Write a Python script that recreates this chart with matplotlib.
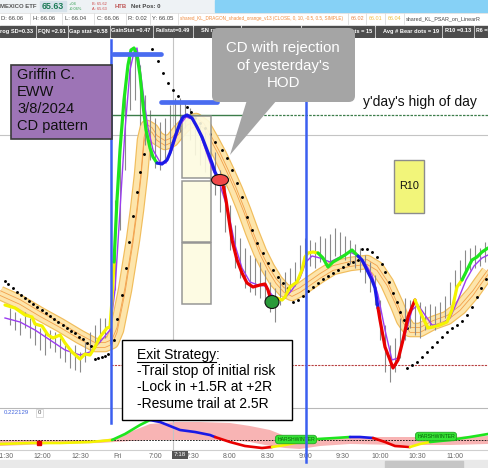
import matplotlib
matplotlib.use("Agg")
import matplotlib.pyplot as plt
from matplotlib.patches import Rectangle, Ellipse, FancyBboxPatch, Polygon

plt.rcParams["font.family"] = ["Liberation Sans", "DejaVu Sans"]

# === Data (x = session minutes, 12:00 prior day = 0, Fri open = 60) ===
# fast colored MA
FAST_T = [-30, -22, -14, -8.4, -6, -0.4, 4.4, 8.4, 14, 18, 23.6, 30, 34, 38, 42, 46, 51.6, 54, 55.6, 57.2,
          59.6, 62, 65.2, 68.4, 70.8, 73.2, 75.6, 78, 80.4, 82.8, 86, 88.4, 91.6,
          95.6, 99.6, 102, 106, 110, 112.4, 115.6, 119.6, 123.6, 127.6, 131.6, 135.6, 138, 141.2,
          144.4, 146.8, 149.2, 151.6, 155.6, 159.6, 163.6, 168.4, 174, 178, 180.4, 182, 184.4,
          187.6, 191.6, 194, 198, 203.6, 207.6, 210, 212.4, 216.4, 220.4,
          224.4, 228.4, 232.4, 238, 242, 247.6, 250, 252.4,
          255.6, 259.6, 263.6, 266, 268.4,
          270, 274, 278, 280.4, 284.4, 288.4, 292.4, 298,
          300.4, 304.4, 308.4, 312.4, 318, 323.6, 327.6, 331.6, 335.6,
          339.6, 343.6, 347.6, 351.6, 356.4]
FAST_P = [65.475, 65.46, 65.425, 65.415, 65.38, 65.37, 65.325, 65.31, 65.325, 65.285, 65.24, 65.205, 65.23,
          65.225, 65.265, 65.315, 65.36, 65.365, 65.5, 65.69,
          66.0, 66.25, 66.5, 66.675, 66.75, 66.76, 66.725, 66.625, 66.475, 66.35, 66.26, 66.215, 66.185,
          66.18, 66.2, 66.235, 66.315, 66.385, 66.415, 66.425, 66.41, 66.365, 66.315, 66.25, 66.185, 66.14, 66.1,
          66.075, 66.0, 65.9, 65.8, 65.7, 65.635, 65.585, 65.565, 65.575, 65.58, 65.55, 65.515, 65.49,
          65.51, 65.5, 65.515, 65.565, 65.59, 65.65, 65.715, 65.735, 65.74, 65.735,
          65.71, 65.665, 65.69, 65.71, 65.725, 65.75, 65.735, 65.72,
          65.7, 65.65, 65.6, 65.56, 65.46,
          65.4, 65.265, 65.2, 65.16, 65.2, 65.3, 65.415, 65.5,
          65.465, 65.41, 65.36, 65.365, 65.375, 65.39, 65.45, 65.565, 65.6,
          65.65, 65.7, 65.715, 65.74, 65.76]
FAST_SEG_START = [0, 19, 32, 46, 59, 69, 77, 82, 90, 99]
FAST_SEG_COLOR = ["yellow", "green", "blue", "red", "yellow", "green", "blue", "red", "yellow", "green"]

# purple (slower) line
PURPLE_T = [-30, -18, -6, 6, 18, 30, 38, 46, 54, 58, 62, 66, 70, 73.2, 75.6, 78, 81.2, 84.4, 88.4, 94,
            98.8, 103.6, 110, 114.8, 119.6, 124.4, 130, 135.6, 142, 148.4, 154, 159.6, 166, 172.4, 178,
            183.6, 188.4, 194, 199.6, 206, 210.8, 215.6, 222, 230, 238, 246, 252.4, 258, 263.6, 268.4,
            274, 279.6, 284.4, 290, 295.6, 300.4, 306, 311.6, 318, 326, 332.4, 338.8, 345.2, 351.6, 356.4]
PURPLE_P = [65.41, 65.39, 65.35, 65.3, 65.25, 65.225, 65.24, 65.29, 65.35, 65.55, 65.95, 66.35, 66.65, 66.74,
            66.76, 66.66, 66.5, 66.36, 66.25, 66.19, 66.185, 66.25, 66.375, 66.415, 66.405, 66.36, 66.26,
            66.16, 66.075, 65.95, 65.775, 65.66, 65.59, 65.575, 65.57, 65.525, 65.5, 65.51, 65.55, 65.61,
            65.69, 65.72, 65.71, 65.69, 65.715, 65.74, 65.72, 65.685, 65.625, 65.525, 65.35, 65.2, 65.21,
            65.325, 65.45, 65.475, 65.425, 65.375, 65.375, 65.41, 65.5, 65.6, 65.67, 65.71, 65.725]

# shaded dragon band (center)
BAND_T = [-34, -18, -2, 14, 30, 42, 50, 55.6, 59.6, 62.8, 66, 69.2, 72.4, 75.6, 78.8, 81.2, 83.6, 87.6,
          91.6, 98, 103.6, 110, 116.4, 122.8, 129.2, 135.6, 142, 148.4, 154.8, 161.2, 167.6, 174, 180.4,
          186.8, 193.2, 199.6, 206, 214, 222, 232.4, 246, 259.6, 267.6, 275.6, 283.6, 288.4, 294, 302,
          312.4, 323.6, 334, 344.4, 350, 356.4]
BAND_P = [65.535, 65.49, 65.43, 65.375, 65.315, 65.275, 65.275, 65.29, 65.35, 65.45, 65.55, 65.675, 65.8,
          65.95, 66.125, 66.3, 66.365, 66.35, 66.31, 66.285, 66.3, 66.35, 66.39, 66.4, 66.37, 66.3, 66.225,
          66.14, 66.05, 65.95, 65.84, 65.74, 65.66, 65.595, 65.55, 65.53, 65.55, 65.585, 65.62, 65.66,
          65.68, 65.69, 65.66, 65.585, 65.475, 65.4, 65.35, 65.35, 65.385, 65.41, 65.46, 65.535, 65.585, 65.64]

# PSAR dots
PSAR_T = [-30, -27.6, -23.6, -20.4, -17.2, -14, -10.8, -7.6, -4.4, -0.4, 2.8, 6, 9.2, 12.4, 16.4, 19.6,
          22.8, 26, 29.2, 32.4, 35.6, 38.8,
          42, 44.4, 47.6, 50, 52.4, 57.2, 59.6, 63.6, 66.8, 69.2, 72.4, 75.6, 78, 81.2,
          87.6, 92.4, 96.4, 100.4, 104.4, 108.4, 111.6, 115.6, 118.8, 122, 126, 130, 134, 138, 143.6,
          147.6, 151.6, 155.6, 159.6, 163.6, 167.6, 171.6, 176.4, 180.4, 184.4, 188.4, 192.4, 196.4,
          200.4, 204.4, 208.4, 212.4, 216.4, 220.4, 224.4, 228.4, 232.4, 236.4, 240.4, 244.4, 248.4, 252.4,
          255.6, 259.6, 263.6, 267.6, 271.6, 274, 277.2, 280.4, 283.6, 286, 289.2, 291.6,
          291.6, 295.6, 299.6, 303.6, 307.6, 311.6, 315.6, 319.6, 323.6, 327.6, 331.6, 335.6, 339.6,
          343.6, 347.6, 350.8, 354.8]
PSAR_P = [65.595, 65.58, 65.56, 65.54, 65.525, 65.51, 65.495, 65.48, 65.465, 65.45, 65.435, 65.42, 65.405,
          65.39, 65.375, 65.36, 65.345, 65.335, 65.315, 65.305, 65.285, 65.27,
          65.205, 65.21, 65.215, 65.22, 65.23, 65.3, 65.405, 65.525, 65.66, 65.79, 65.92, 66.04, 66.14, 66.23,
          66.755, 66.695, 66.635, 66.585, 66.55, 66.52, 66.49, 66.465, 66.44, 66.41, 66.385, 66.36, 66.33,
          66.29, 66.25, 66.21, 66.15, 66.085, 66.015, 65.915, 65.85, 65.785, 65.735, 65.685, 65.65, 65.615,
          65.585, 65.56,
          65.49, 65.5, 65.52, 65.545, 65.565, 65.585, 65.605, 65.62, 65.635, 65.65, 65.665, 65.68, 65.69, 65.7,
          65.755, 65.755, 65.74, 65.715, 65.68, 65.64, 65.59, 65.535, 65.49, 65.44, 65.4, 65.36,
          65.16, 65.175, 65.19, 65.215, 65.24, 65.265, 65.29, 65.315, 65.34, 65.36, 65.375, 65.395, 65.425,
          65.465, 65.515, 65.56, 65.605]

# OHLC bars (4-minute spacing)
BAR_T = list(range(-26, 355, 4))
BAR_HI = [65.46, 65.44, 65.41, 65.44, 65.41, 65.39, 65.36, 65.34, 65.35, 65.34,
          65.31, 65.275, 65.26, 65.275, 65.24, 65.29, 65.34, 65.375, 65.41, 65.41,
          65.36, 66.0, 66.3, 66.575, 66.725, 66.75, 66.675, 66.525, 66.45, 66.41,
          66.39, 66.41, 66.475, 66.51, 66.51, 66.49, 66.46, 66.425, 66.375, 66.34,
          66.29, 66.24, 66.15, 66.075, 65.975, 65.875, 65.81, 65.76, 65.725, 65.71,
          65.69, 65.65, 65.59, 65.56, 65.61, 65.64, 65.66, 65.69, 65.775, 65.81,
          65.8, 65.79, 65.82, 65.81, 65.83, 65.86, 65.84, 65.82, 65.8, 65.78,
          65.76, 65.725, 65.69, 65.625, 65.5, 65.375, 65.275, 65.31, 65.41, 65.51,
          65.5, 65.475, 65.49, 65.47, 65.48, 65.47, 65.49, 65.52, 65.59, 65.65,
          65.7, 65.75, 65.76, 65.775, 65.76, 65.79]
BAR_LO = [65.375, 65.35, 65.325, 65.36, 65.31, 65.275, 65.25, 65.225, 65.26, 65.24,
          65.21, 65.19, 65.16, 65.15, 65.14, 65.19, 65.225, 65.26, 65.29, 65.31,
          65.28, 65.55, 65.85, 66.15, 66.45, 66.5, 66.375, 66.275, 66.2, 66.16,
          66.15, 66.2, 66.25, 66.325, 66.34, 66.36, 66.3, 66.225, 66.175, 66.14,
          66.075, 66.025, 65.94, 65.84, 65.75, 65.66, 65.61, 65.56, 65.54, 65.525,
          65.51, 65.485, 65.44, 65.39, 65.475, 65.51, 65.54, 65.57, 65.64, 65.69,
          65.67, 65.66, 65.69, 65.675, 65.69, 65.72, 65.72, 65.7, 65.68, 65.66,
          65.64, 65.585, 65.54, 65.475, 65.3, 65.14, 65.09, 65.14, 65.21, 65.3,
          65.36, 65.325, 65.31, 65.35, 65.37, 65.35, 65.39, 65.41, 65.475, 65.525,
          65.575, 65.625, 65.65, 65.66, 65.67, 65.69]

# levels and annotations
YDAY_HIGH = 66.425
STOP_LEVEL = 65.175
CROSS_T, CROSS_P = 104.4, 66.325
TRADE_MARKS_T = [54.8, 210.8]                 # blue verticals
HOD_BARS = [(56.4, 94.8, 66.73), (94.8, 139.6, 66.49)]
RISK_BOXES = [(66.11, 66.42), (65.79, 66.095), (65.48, 65.785)]
ENTRY = (142, 66.1)
EXIT = (183.6, 65.49)

# indicator pane
IND_T = [-34, -10, 14, 38, 55.6, 66, 78, 86, 94, 102, 110, 122, 134, 138, 150, 162, 175.6, 183.6, 194,
         206, 220.4, 234, 246, 254, 264.4, 274, 282, 294, 302, 310, 326, 342, 356.4]
IND_V = [-0.4, -0.3, -0.3, -0.2, 0.0, 0.6, 1.5, 2.0, 1.8, 1.4, 1.0, 0.8, 0.5, 0.3, -0.2, -0.6, -0.8, -0.7,
         -0.5, -0.2, 0.1, 0.2, 0.3, 0.3, 0.2, -0.2, -0.6, -0.7, -0.4, -0.2, 0.0, 0.3, 0.6]
IND_SEG_START = [0, 4, 7, 13, 17, 20, 22, 24, 27, 29]
IND_SEG_COLOR = ["yellow", "green", "blue", "red", "yellow", "green", "blue", "red", "yellow", "green"]
PINK_T = [-34, 6, 46, 58, 70, 86, 106, 126, 150, 166, 182, 194, 206, 222, 246, 286, 326, 356.4]
PINK_HI = [0, 0, 0, 0.2, 0.8, 1.6, 1.8, 1.8, 1.7, 1.4, 1.0, 0.4, 0.1, 0.2, 0.3, 0.3, 0.3, 0.4]
PINK_LO = [-0.6, -0.4, -0.3, -0.2, -0.1, 0, 0, 0, 0, -0.2, -0.6, -0.8, -0.9, -0.6, -0.4, -0.5, -0.5, -0.4]
HARSH_T = [202.8, 314.8]
HARSH_V = [0.05, 0.35]

TIME_T = [-30, 0, 30, 60, 90, 120, 150, 180, 210, 240, 270, 300, 330]
TIME_LABELS = ["11:30", "12:00", "12:30", "Fri", "7:00", "7:30", "8:00", "8:30", "9:00", "9:30",
               "10:00", "10:30", "11:00"]

SEG_COLORS = {"yellow": "#f4f400", "green": "#1ee61e", "blue": "#1a1ae6", "red": "#e80000"}

W, H = 488, 468


def draw_segments(ax, t, v, starts, colors, lw, z):
    ends = starts[1:] + [len(t) - 1]
    for s, e, c in zip(starts, ends, colors):
        ax.plot(t[s:e + 1], v[s:e + 1], color=SEG_COLORS[c], lw=lw,
                solid_capstyle="round", solid_joinstyle="round", zorder=z)


fig = plt.figure(figsize=(W / 100, H / 100), dpi=100)
fig.patch.set_facecolor("white")

# === Header strip (pixel layout) ===
hx = fig.add_axes([0, 1 - 38 / H, 1, 38 / H], zorder=0)
hx.set_xlim(0, W)
hx.set_ylim(38, 0)
hx.axis("off")
hx.add_patch(Rectangle((0, 0), 215, 12, color="#eef2f5"))
hx.add_patch(Rectangle((215, 0), W - 215, 12, color="#86d1f6"))
hx.add_patch(Rectangle((40, 1), 26, 10, color="#d6e2ea"))
hx.text(36, 6.3, "MEXICO ETF", ha="right", va="center", fontsize=4.3, color="#555555", fontweight="bold")
hx.text(53, 6.3, "65.63", ha="center", va="center", fontsize=6.3, color="#1b7a55", fontweight="bold")
hx.text(69, 4, "+.04", va="center", fontsize=2.8, color="#2a9a4a")
hx.text(69, 8.6, "+0.06%", va="center", fontsize=2.8, color="#2a9a4a")
hx.text(92, 4, "B: 65.62", va="center", fontsize=2.8, color="#cc4444")
hx.text(92, 8.6, "A: 65.63", va="center", fontsize=2.8, color="#cc4444")
hx.text(115, 6.3, "HTB", va="center", fontsize=4.3, color="#c05a5a", fontweight="bold")
hx.text(131, 6.3, "Net Pos: 0", va="center", fontsize=4.3, color="#444444", fontweight="bold")

row2 = [(1, "D: 66.06", "#444444", 4.2), (33, "H: 66.06", "#444444", 4.2), (65, "L: 66.04", "#444444", 4.2),
        (97, "C: 66.06", "#444444", 4.2), (128, "R: 0.02", "#444444", 4.2), (152, "Y: 66.05", "#444444", 4.2),
        (180, "shared_KL_DRAGON_shaded_orange_v13 (CLOSE, 0, 10, -0.5, 0.5, SIMPLE)", "#f08a3c", 3.35),
        (351, "66.02", "#e8884a", 3.9), (369, "66.01", "#f4c04a", 3.9), (388, "66.04", "#e8c040", 3.9),
        (406, "shared_KL_PSAR_on_LinearR", "#444444", 3.9)]
for x0, s, c, fs in row2:
    hx.text(x0, 18.5, s, va="center", fontsize=fs, color=c)
for xs in [30, 62, 94, 126, 150, 178, 348, 366, 385, 404]:
    hx.plot([xs, xs], [13, 24], color="#d5d5d5", lw=0.5)
hx.plot([0, W], [12.5, 12.5], color="#dddddd", lw=0.5)
hx.plot([0, W], [24.5, 24.5], color="#dddddd", lw=0.5)

row3 = [(0, 35, "rog SD=0.33"), (37, 67, "FQN =2.91"), (69, 109, "Gap stat =0.58"),
        (111, 152, "GainStat =0.47"), (154, 192, "Failstat=0.49"), (194, 240, "SN ratio =0.87"),
        (242, 300, "Avg # Bull bars = 12"), (302, 374, "Avg # Bull dots = 15"),
        (376, 441, "Avg # Bear dots = 19"), (443, 473, "R10 =0.13")]
for x0, x1, s in row3:
    hx.add_patch(Rectangle((x0, 25.5), x1 - x0, 11, color="#4d4d4d"))
    hx.text(x1 - 1.5, 31, s, ha="right", va="center", fontsize=4.1, color="white", fontweight="bold")
hx.add_patch(Rectangle((475, 25.5), 20, 11, color="#4d4d4d"))
hx.text(476, 31, "R6 =0", ha="left", va="center", fontsize=3.8, color="white", fontweight="bold")

# === Indicator pane ===
ai = fig.add_axes([0, 18 / H, 1, 42 / H], zorder=1)
ai.set_xlim(-34, 356.4)
ai.set_ylim(-1.0, 3.2)
ai.fill_between(PINK_T, PINK_LO, PINK_HI, color="#f8b4b4", lw=0, zorder=1)
ai.axhline(0, color="black", lw=0.6, ls=(0, (2, 1.5)), zorder=2)
ai.axvline(CROSS_T, color="#c4c4c4", lw=0.8, zorder=1)
draw_segments(ai, IND_T, IND_V, IND_SEG_START, IND_SEG_COLOR, 1.9, 3)
ai.plot([-2.8], [-0.3], "s", color="#e00000", ms=2.2, zorder=4)
for t, v in zip(HARSH_T, HARSH_V):
    ai.text(t, v, "HARSHWINTER", ha="center", va="center", fontsize=3.7, color="#0b5e0b", zorder=5,
            bbox=dict(boxstyle="round,pad=0.35,rounding_size=0.6", fc="#35e335", ec="#1a9a1a", lw=0.5))
for side in ["left", "right"]:
    ai.spines[side].set_visible(False)
ai.spines["top"].set_color("#b8b8b8")
ai.spines["top"].set_linewidth(0.8)
ai.spines["bottom"].set_color("#cfcfcf")
ai.spines["bottom"].set_linewidth(0.8)
ai.set_yticks([])
ai.set_xticks(TIME_T)
ai.set_xticklabels(TIME_LABELS)
ai.tick_params(axis="x", length=0, labelsize=5, colors="#666666", pad=2.5)

fig.text(4 / W, 1 - 413 / H, "0.222129", fontsize=4.3, color="#4466dd", va="center")
fig.text(38 / W, 1 - 413 / H, "0", fontsize=4.3, color="#555555", va="center",
         bbox=dict(boxstyle="square,pad=0.3", fc="white", ec="#cccccc", lw=0.5))
fig.text(180 / W, 1 - 455 / H, "7:18", fontsize=4.5, color="white", ha="center", va="center",
         bbox=dict(boxstyle="square,pad=0.3", fc="#555555", ec="none"))
fig.patches.append(Rectangle((0, 0), 1, 8 / H, transform=fig.transFigure, color="#e9e9e9", zorder=0))
fig.patches.append(Rectangle((385 / W, 0.5 / H), 78 / W, 6.5 / H, transform=fig.transFigure,
                             color="#c6c6c6", zorder=0.5))

# === Price pane ===
ax = fig.add_axes([0, 60 / H, 1, 370 / H], zorder=2)
ax.patch.set_alpha(0)
ax.set_xlim(-34, 356.4)
ax.set_ylim(64.96, 66.81)
ax.axis("off")

ax.axhline(CROSS_P, color="#c4c4c4", lw=0.8, zorder=1)
ax.axvline(CROSS_T, color="#c4c4c4", lw=0.8, zorder=1)

# dragon band
ax.plot(BAND_T, BAND_P, color="#f1bd5c", lw=10.5, solid_capstyle="butt", solid_joinstyle="round", zorder=2)
ax.plot(BAND_T, BAND_P, color="#fde5ab", lw=8.8, solid_capstyle="butt", solid_joinstyle="round", zorder=2.1)
ax.plot(BAND_T, [p + 0.012 for p in BAND_P], color="#f2a04a", lw=0.6, zorder=2.2)
ax.plot(BAND_T, [p - 0.012 for p in BAND_P], color="#f2a04a", lw=0.6, zorder=2.2)

ax.vlines(BAR_T, BAR_LO, BAR_HI, color="#8a8a8a", lw=0.8, zorder=3)

ax.plot([54, 162], [YDAY_HIGH, YDAY_HIGH], color="#3c7d4a", lw=1.0, zorder=3.5)
ax.plot([162, 356.4], [YDAY_HIGH, YDAY_HIGH], color="#3c7d4a", lw=0.9, ls=(0, (2, 1)), zorder=3.5)
ax.plot([55, 356.4], [STOP_LEVEL, STOP_LEVEL], color="#b84040", lw=0.8, ls=(0, (2, 1)), zorder=3.5)

ax.plot(PSAR_T, PSAR_P, "o", color="black", ms=2.1, mew=0, zorder=4)

for lo, hi in RISK_BOXES:
    ax.add_patch(Rectangle((111.6, lo), 23.2, hi - lo, fc="#fdfbe0", ec="#8c8c8c", lw=1.1,
                           alpha=0.9, zorder=4.5))

ax.plot(PURPLE_T, PURPLE_P, color="#9b3cf0", lw=1.0, zorder=5)
draw_segments(ax, FAST_T, FAST_P, FAST_SEG_START, FAST_SEG_COLOR, 2.3, 6)

# trade markers
ax.plot([TRADE_MARKS_T[0]] * 2, [66.8, 64.885], color="#3b5ff0", lw=1.8, zorder=8, clip_on=False)
ax.plot([TRADE_MARKS_T[1]] * 2, [66.49, 64.69], color="#3b5ff0", lw=1.8, zorder=8, clip_on=False)
for x0, x1, y in HOD_BARS:
    ax.plot([x0, x1], [y, y], color="#4a6cf0", lw=3.4, solid_capstyle="round", zorder=8)

ax.add_patch(Ellipse(ENTRY, 13.6, 0.055, fc="#f04848", ec="#111111", lw=0.8, zorder=11))
ax.add_patch(Ellipse(EXIT, 11.2, 0.065, fc="#2a9a3a", ec="#111111", lw=0.8, zorder=11))

# purple note
ax.add_patch(Rectangle((-25.2, 66.305), 80.8, 0.37, fc="#9d74b6", ec="#3a3a3a", lw=1.2, zorder=9))
for s, y in zip(["Griffin C.", "EWW", "3/8/2024", "CD pattern"], [66.625, 66.54, 66.455, 66.37]):
    ax.text(-20.4, y, s, fontsize=10.5, color="#111111", va="center", zorder=10)

# callout
ax.add_patch(FancyBboxPatch((135.6, 66.49), 114.4, 0.37, boxstyle="round,pad=0,rounding_size=5",
                            mutation_aspect=0.00625, fc="#a5a5a5", ec="none", zorder=9, clip_on=False))
ax.add_patch(Polygon([(163.6, 66.5), (187.6, 66.5), (150, 66.225)], closed=True, fc="#a5a5a5",
                     ec="none", zorder=9, clip_on=False))
for s, y in zip(["CD with rejection", "of yesterday's", "HOD"], [66.76, 66.67, 66.585]):
    ax.text(192.4, y, s, fontsize=10.8, color="white", ha="center", va="center", zorder=10, clip_on=False)

ax.text(256.4, 66.49, "y'day's high of day", fontsize=10, color="#111111", va="center", zorder=10)

ax.add_patch(Rectangle((281.2, 65.935), 24, 0.265, fc="#f2f57a", ec="#8c8c8c", lw=1.0, zorder=9))
ax.text(293.2, 66.068, "R10", fontsize=7.8, ha="center", va="center", color="#111111", zorder=10)

# exit strategy box
ax.add_patch(Rectangle((63.6, 64.9), 136, 0.4, fc="white", ec="black", lw=1.0, zorder=9, clip_on=False))
t_exit = ax.text(75.6, 65.225, "Exit Strategy", fontsize=10, va="center", zorder=10, clip_on=False)
for s, y in zip(["-Trail stop of initial risk", "-Lock in +1.5R at +2R", "-Resume trail at 2.5R"],
                [65.145, 65.065, 64.98]):
    ax.text(75.6, y, s, fontsize=10, va="center", zorder=10, clip_on=False)

fig.canvas.draw()
rend = fig.canvas.get_renderer()
bb = t_exit.get_window_extent(rend)
inv = ax.transData.inverted()
(ux0, uy0), (ux1, _) = inv.transform([(bb.x0, bb.y0 + 0.5), (bb.x1, bb.y0 + 0.5)])
ax.plot([ux0, ux1], [uy0, uy0], color="black", lw=0.8, zorder=10, clip_on=False)
ax.text(ux1, 65.225, ":", fontsize=10, va="center", zorder=10, clip_on=False)

fig.savefig("out.png", dpi=100)
